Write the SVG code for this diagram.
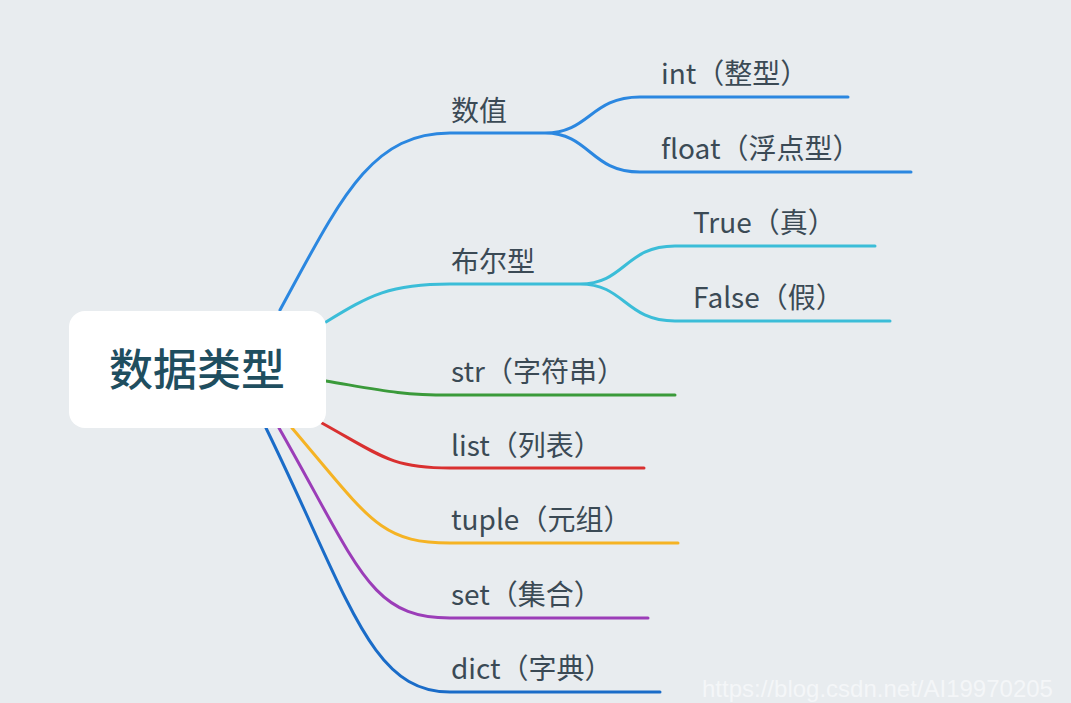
<svg xmlns="http://www.w3.org/2000/svg" width="1071" height="703" viewBox="0 0 1071 703">
<style>
.l{font-family:"Noto Sans CJK SC","Liberation Sans",sans-serif;font-size:28px;fill:#3b4a55}
.c{fill:none;stroke-width:3;stroke-linecap:round}
</style>
<rect width="1071" height="703" fill="#e8ecef"/>
<g id="connectors">
<path class="c" stroke="#2b87e0" d="M280,310 C340,200 370,133 450,133 L545,133 C590,133 590,97 640,97 L848,97 M545,133 C590,133 590,172 640,172 L911,172"/>
<path class="c" stroke="#3bbdd8" d="M326,322 C370,295 390,284 450,284 L580,284 C625,284 625,246 675,246 L875,246 M580,284 C625,284 625,321 675,321 L890,321"/>
<path class="c" stroke="#3a9a3a" d="M326,381 C380,390 400,395 450,395 L675,395"/>
<path class="c" stroke="#d93030" d="M320,422 C380,455 390,468 450,468 L644,468"/>
<path class="c" stroke="#f5b324" d="M292,428 C370,520 380,543 450,543 L678,543"/>
<path class="c" stroke="#9b3db8" d="M279,428 C360,570 370,618 450,618 L648,618"/>
<path class="c" stroke="#1a6cc8" d="M266,428 C350,600 370,692 450,692 L660,692"/>
</g>
<g id="root"><rect x="69" y="311" width="257" height="117" rx="16" fill="#fff"/>
<text x="197" y="386" text-anchor="middle" font-family="Noto Sans CJK SC,sans-serif" font-size="44" font-weight="500" fill="#1f4e5f">数据类型</text></g>
<g id="n1"><text class="l" x="451" y="121">数值</text></g>
<g id="n1a"><text class="l" x="661" y="84">int（整型）</text></g>
<g id="n1b"><text class="l" x="661" y="159">float（浮点型）</text></g>
<g id="n2"><text class="l" x="451" y="272">布尔型</text></g>
<g id="n2a"><text class="l" x="693" y="233">True（真）</text></g>
<g id="n2b"><text class="l" x="693" y="308">False（假）</text></g>
<g id="n3"><text class="l" x="451" y="382">str（字符串）</text></g>
<g id="n4"><text class="l" x="451" y="456">list（列表）</text></g>
<g id="n5"><text class="l" x="451" y="530">tuple（元组）</text></g>
<g id="n6"><text class="l" x="451" y="605">set（集合）</text></g>
<g id="n7"><text class="l" x="451" y="679">dict（字典）</text></g>
<text x="702" y="697" font-family="Liberation Sans,sans-serif" font-size="24" fill="#f4f6f8">https://blog.csdn.net/AI19970205</text>
</svg>
